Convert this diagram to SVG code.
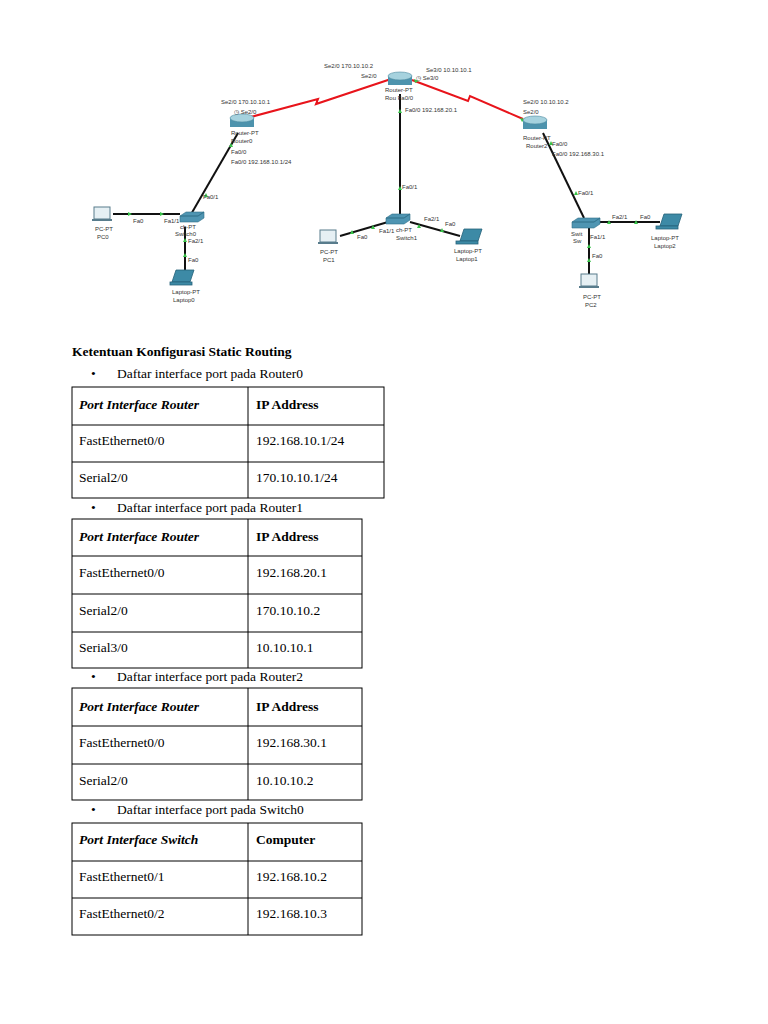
<svg xmlns="http://www.w3.org/2000/svg" width="768" height="1024" viewBox="0 0 768 1024">
<style>
.t{font-family:"Liberation Sans",Arial,sans-serif;font-size:6px;fill:#333}
.d{font-family:"Liberation Serif","Times New Roman",serif;font-size:13.5px;fill:#000}
.b{font-weight:bold}.i{font-style:italic;font-weight:bold}
.eth{stroke:#111;stroke-width:2;fill:none}
.ser{stroke:#e8141b;stroke-width:2;fill:none}
.cell{fill:none;stroke:#000;stroke-width:1}
.pt{fill:#39c24a}
.rb{fill:#4d93ad}.rt{fill:#a6d2de;stroke:#4d8aa0;stroke-width:.6}
.sw{fill:#4f95b2;stroke:#2f6f88;stroke-width:.6}
.mon{fill:#e6f0f4;stroke:#587c8c;stroke-width:1}
.lap{fill:#3d8aa6;stroke:#26627a;stroke-width:.8}
</style>
<rect width="768" height="1024" fill="#fff"/>
<g id="connectors">
<polyline class="ser" points="247,118 318,99 316,104 394,78"/>
<polyline class="ser" points="412,80 468,101 470,96 523,119"/>
<line class="eth" x1="238" y1="133" x2="190" y2="216"/>
<line class="eth" x1="400" y1="94" x2="400" y2="216"/>
<line class="eth" x1="543" y1="133" x2="584" y2="218"/>
<line class="eth" x1="113" y1="214" x2="180" y2="214"/>
<line class="eth" x1="185" y1="227" x2="185" y2="270"/>
<line class="eth" x1="340" y1="236" x2="388" y2="222"/>
<line class="eth" x1="410" y1="222" x2="460" y2="236"/>
<line class="eth" x1="600" y1="222" x2="660" y2="222"/>
<line class="eth" x1="589" y1="228" x2="589" y2="275"/>
<g class="pt">
<path d="M244,120l4-3 1,4z"/><path d="M391,81l5-2-1,4z"/><path d="M415,83l-1-4 5,2z"/><path d="M520,118l5,1-3,3z"/>
<path d="M229,147l4,0-2,-4z"/><path d="M204,197l4,0-2,-4z"/>
<path d="M398,113h4l-2-4z"/><path d="M398,190h4l-2-4z"/>
<path d="M549,145h4l-2-4z"/><path d="M574,195h4l-2-4z"/>
<path d="M128,216v-4l4,2z"/><path d="M160,216v-4l4,2z"/>
<path d="M183,242h4l-2-4z"/><path d="M183,257h4l-2-4z"/>
<path d="M350,234h4l-2-4z"/><path d="M371,229h4l-2-4z"/><path d="M417,228h4l-2-4z"/><path d="M440,232h4l-2-4z"/>
<path d="M607,224h4l-2-4z"/><path d="M634,224h4l-2-4z"/>
<path d="M587,248h4l-2-4z"/><path d="M587,262h4l-2-4z"/>
</g>
</g>
<g id="router0"><rect class="rb" x="230" y="118" width="24" height="9"/><ellipse class="rt" cx="242" cy="118" rx="12" ry="4"/>
<text class="t" x="221" y="104">Se2/0 170.10.10.1</text><text class="t" x="234" y="114">◷ Se2/0</text>
<text class="t" x="231" y="135">Router-PT</text><text class="t" x="231" y="143">Router0</text><text class="t" x="231" y="154">Fa0/0</text><text class="t" x="231" y="164">Fa0/0 192.168.10.1/24</text></g>
<g id="router1"><rect class="rb" x="388" y="76" width="24" height="9"/><ellipse class="rt" cx="400" cy="76" rx="12" ry="4"/>
<text class="t" x="324" y="68">Se2/0 170.10.10.2</text><text class="t" x="361" y="78">Se2/0</text>
<text class="t" x="426" y="72">Se3/0 10.10.10.1</text><text class="t" x="416" y="80">◷ Se3/0</text>
<text class="t" x="385" y="92">Router-PT</text><text class="t" x="385" y="100">Rou  Fa0/0</text><text class="t" x="405" y="112">Fa0/0 192.168.20.1</text></g>
<g id="router2"><rect class="rb" x="523" y="120" width="24" height="9"/><ellipse class="rt" cx="535" cy="120" rx="12" ry="4"/>
<text class="t" x="523" y="104">Se2/0 10.10.10.2</text><text class="t" x="523" y="114">Se2/0</text>
<text class="t" x="523" y="140">Router-PT</text><text class="t" x="526" y="148">Router2</text><text class="t" x="552" y="146">Fa0/0</text><text class="t" x="552" y="156">Fa0/0 192.168.30.1</text></g>
<g id="switch0"><path class="sw" d="M180,216h18l6,-4h-18z M180,216v6h18l6,-4v-6l-6,4z"/>
<text class="t" x="203" y="199">Fa0/1</text><text class="t" x="164" y="223">Fa1/1</text><text class="t" x="180" y="229">ch-PT</text><text class="t" x="175" y="236">Switch0</text><text class="t" x="188" y="243">Fa2/1</text><text class="t" x="188" y="262">Fa0</text></g>
<g id="switch1"><path class="sw" d="M386,218h18l6,-4h-18z M386,218v6h18l6,-4v-6l-6,4z"/>
<text class="t" x="402" y="189">Fa0/1</text><text class="t" x="379" y="233">Fa1/1</text><text class="t" x="396" y="232">ch-PT</text><text class="t" x="396" y="240">Switch1</text><text class="t" x="424" y="221">Fa2/1</text><text class="t" x="445" y="226">Fa0</text></g>
<g id="switch2"><path class="sw" d="M572,222h22l6,-4h-22z M572,222v6h22l6,-4v-6l-6,4z"/>
<text class="t" x="578" y="195">Fa0/1</text><text class="t" x="571" y="236">Swit</text><text class="t" x="573" y="243">Sw</text><text class="t" x="590" y="239">Fa1/1</text><text class="t" x="612" y="219">Fa2/1</text><text class="t" x="640" y="219">Fa0</text><text class="t" x="592" y="258">Fa0</text></g>
<g id="pc0"><rect class="mon" x="94" y="207" width="16" height="12"/><rect fill="#587c8c" x="92" y="219" width="20" height="2"/><text class="t" x="95" y="231">PC-PT</text><text class="t" x="97" y="239">PC0</text><text class="t" x="133" y="223">Fa0</text></g>
<g id="laptop0"><path class="lap" d="M176,270h18l-4,12h-18z"/><rect class="lap" x="170" y="282" width="22" height="3"/><text class="t" x="172" y="294">Laptop-PT</text><text class="t" x="173" y="302">Laptop0</text></g>
<g id="pc1"><rect class="mon" x="320" y="230" width="16" height="12"/><rect fill="#587c8c" x="318" y="242" width="20" height="2"/><text class="t" x="320" y="254">PC-PT</text><text class="t" x="323" y="262">PC1</text><text class="t" x="357" y="239">Fa0</text></g>
<g id="laptop1"><path class="lap" d="M464,229h18l-4,12h-18z"/><rect class="lap" x="456" y="241" width="22" height="3"/><text class="t" x="454" y="253">Laptop-PT</text><text class="t" x="456" y="261">Laptop1</text></g>
<g id="laptop2"><path class="lap" d="M664,214h18l-4,12h-18z"/><rect class="lap" x="656" y="226" width="22" height="3"/><text class="t" x="651" y="240">Laptop-PT</text><text class="t" x="654" y="248">Laptop2</text></g>
<g id="pc2"><rect class="mon" x="581" y="274" width="16" height="12"/><rect fill="#587c8c" x="579" y="286" width="20" height="2"/><text class="t" x="583" y="299">PC-PT</text><text class="t" x="585" y="307">PC2</text></g>
<text class="d b" x="72" y="356">Ketentuan Konfigurasi Static Routing</text>
<g class="d"><text x="91" y="378">•</text><text x="117" y="378">Daftar interface port pada Router0</text>
<text x="91" y="512">•</text><text x="117" y="512">Daftar interface port pada Router1</text>
<text x="91" y="681">•</text><text x="117" y="681">Daftar interface port pada Router2</text>
<text x="91" y="814">•</text><text x="117" y="814">Daftar interface port pada Switch0</text></g>
<g id="table0">
<rect class="cell" x="72" y="387" width="312" height="111"/><line class="cell" x1="248" y1="387" x2="248" y2="498"/><line class="cell" x1="72" y1="425" x2="384" y2="425"/><line class="cell" x1="72" y1="462" x2="384" y2="462"/>
<text class="d i" x="79" y="409">Port Interface Router</text><text class="d b" x="256" y="409">IP Address</text>
<text class="d" x="79" y="445">FastEthernet0/0</text><text class="d" x="256" y="445">192.168.10.1/24</text>
<text class="d" x="79" y="482">Serial2/0</text><text class="d" x="256" y="482">170.10.10.1/24</text></g>
<g id="table1">
<rect class="cell" x="72" y="519" width="290" height="149"/><line class="cell" x1="248" y1="519" x2="248" y2="668"/><line class="cell" x1="72" y1="556" x2="362" y2="556"/><line class="cell" x1="72" y1="594" x2="362" y2="594"/><line class="cell" x1="72" y1="632" x2="362" y2="632"/>
<text class="d i" x="79" y="541">Port Interface Router</text><text class="d b" x="256" y="541">IP Address</text>
<text class="d" x="79" y="577">FastEthernet0/0</text><text class="d" x="256" y="577">192.168.20.1</text>
<text class="d" x="79" y="615">Serial2/0</text><text class="d" x="256" y="615">170.10.10.2</text>
<text class="d" x="79" y="652">Serial3/0</text><text class="d" x="256" y="652">10.10.10.1</text></g>
<g id="table2">
<rect class="cell" x="72" y="688" width="290" height="112"/><line class="cell" x1="248" y1="688" x2="248" y2="800"/><line class="cell" x1="72" y1="726" x2="362" y2="726"/><line class="cell" x1="72" y1="764" x2="362" y2="764"/>
<text class="d i" x="79" y="711">Port Interface Router</text><text class="d b" x="256" y="711">IP Address</text>
<text class="d" x="79" y="747">FastEthernet0/0</text><text class="d" x="256" y="747">192.168.30.1</text>
<text class="d" x="79" y="785">Serial2/0</text><text class="d" x="256" y="785">10.10.10.2</text></g>
<g id="table3">
<rect class="cell" x="72" y="823" width="290" height="112"/><line class="cell" x1="248" y1="823" x2="248" y2="935"/><line class="cell" x1="72" y1="861" x2="362" y2="861"/><line class="cell" x1="72" y1="898" x2="362" y2="898"/>
<text class="d i" x="79" y="844">Port Interface Switch</text><text class="d b" x="256" y="844">Computer</text>
<text class="d" x="79" y="881">FastEthernet0/1</text><text class="d" x="256" y="881">192.168.10.2</text>
<text class="d" x="79" y="918">FastEthernet0/2</text><text class="d" x="256" y="918">192.168.10.3</text></g>
</svg>
